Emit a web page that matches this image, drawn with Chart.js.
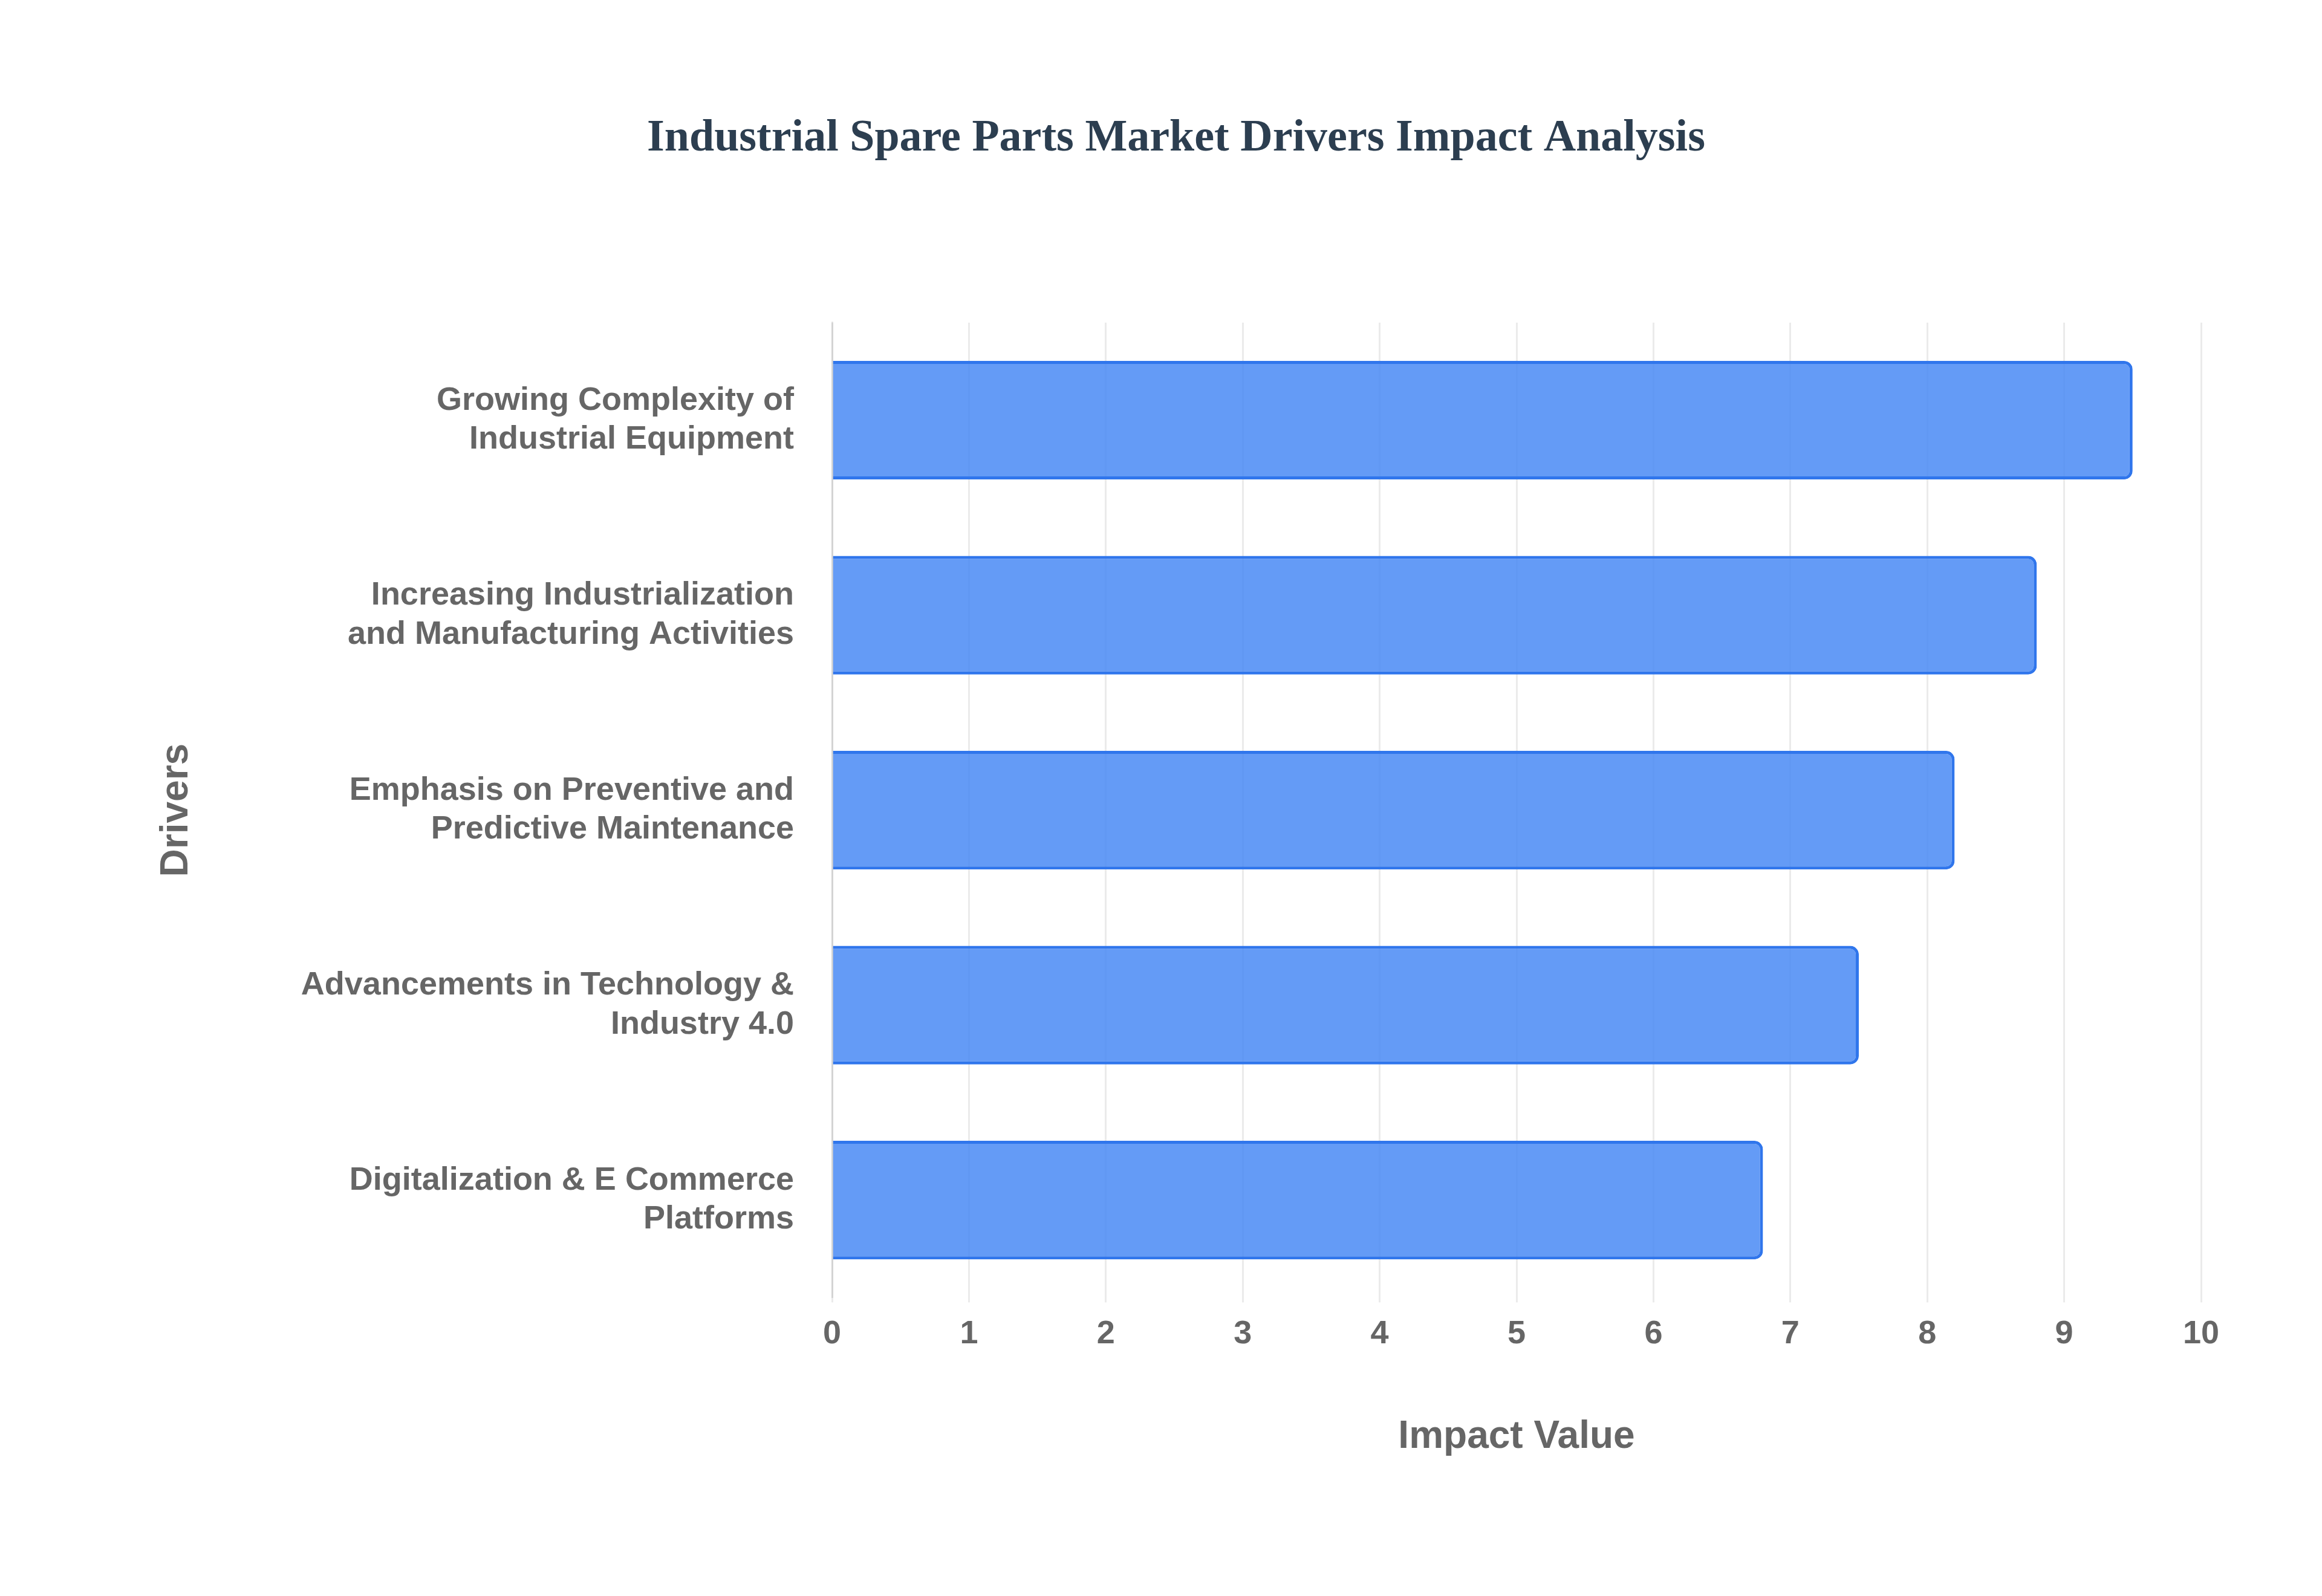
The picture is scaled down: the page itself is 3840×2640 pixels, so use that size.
<!DOCTYPE html>
<html>
<head>
<meta charset="utf-8">
<script src="https://cdn.jsdelivr.net/npm/chart.js@4"></script>
<style>
  html, body { margin: 0; padding: 0; background: #fff; }
  #wrap { width: 3840px; height: 2640px; }
</style>
</head>
<body>
<div id="wrap"><canvas id="chart" width="3840" height="2640"></canvas></div>
<script>
const drivers = [
    ['Growing Complexity of', 'Industrial Equipment'],
    ['Increasing Industrialization', 'and Manufacturing Activities'],
    ['Emphasis on Preventive and', 'Predictive Maintenance'],
    ['Advancements in Technology &', 'Industry 4.0'],
    ['Digitalization & E Commerce', 'Platforms']
];
const impactValues = [9.5, 8.8, 8.2, 7.5, 6.8];

const tickFont = { family: 'Liberation Sans, Arial, sans-serif', size: 54, weight: 'bold' };

const ctx = document.getElementById('chart').getContext('2d');
new Chart(ctx, {
    type: 'bar',
    data: {
        labels: drivers,
        datasets: [{
            label: 'Impact Value',
            data: impactValues,
            backgroundColor: 'rgba(66, 133, 244, 0.82)',
            borderColor: 'rgba(48, 118, 236, 1)',
            borderWidth: 5,
            borderRadius: 14,
            borderSkipped: 'start',
            categoryPercentage: 0.8,
            barPercentage: 0.76
        }]
    },
    options: {
        indexAxis: 'y',
        responsive: false,
        animation: false,
        devicePixelRatio: 1,
        layout: { padding: { left: 250, right: 200, top: 0, bottom: 220 } },
        plugins: {
            legend: { display: false },
            tooltip: { enabled: false },
            title: {
                display: true,
                text: 'Industrial Spare Parts Market Drivers Impact Analysis',
                color: '#2c3e50',
                font: { family: 'Liberation Serif, Times New Roman, serif', size: 74, weight: 'bold' },
                padding: { top: 185, bottom: 260 }
            }
        },
        scales: {
            x: {
                min: 0,
                max: 10,
                ticks: { stepSize: 1, color: '#666', font: tickFont, padding: 20 },
                grid: { color: 'rgba(0,0,0,0.08)', lineWidth: 3 },
                border: { display: false },
                title: {
                    display: true,
                    text: 'Impact Value',
                    color: '#666',
                    font: { family: 'Liberation Sans, Arial, sans-serif', size: 64, weight: 'bold' },
                    padding: { top: 80 }
                }
            },
            y: {
                ticks: { color: '#666', font: tickFont, padding: 55 },
                grid: { display: false },
                border: { color: 'rgba(0,0,0,0.1)', width: 3 },
                title: {
                    display: true,
                    text: 'Drivers',
                    color: '#666',
                    font: { family: 'Liberation Sans, Arial, sans-serif', size: 64, weight: 'bold' }
                },
                afterFit: function (scale) { scale.width = 1126; }
            }
        }
    }
});
</script>
</body>
</html>
